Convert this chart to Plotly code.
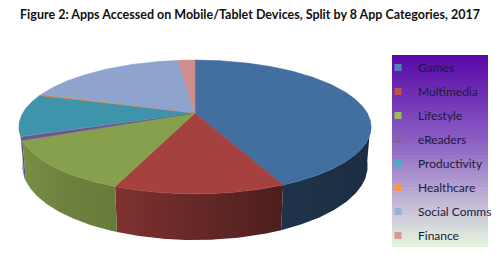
import numpy as np
import plotly.graph_objects as go

# ---------------- data ----------------
categories = ["Games", "Multimedia", "Lifestyle", "eReaders", "Productivity",
              "Healthcare", "Social Comms", "Finance"]
shares = [43.2, 12.9, 12.5, 0.8, 10.3, 0.3, 18.1, 1.9]
top_colors = ["#426EA0", "#A5423F", "#87A04D", "#6E5491", "#3E94AA",
              "#E0822F", "#8FA4CD", "#CD8E8D"]
legend_colors = ["#4F81BD", "#C0504D", "#9BBB59", "#8064A2", "#4BACC6",
                 "#F79646", "#95B3D7", "#D99694"]
title_text = "Figure 2: Apps Accessed on Mobile/Tablet Devices, Split by 8 App Categories, 2017"

W, H = 503, 266

# ---------------- 3D perspective pie geometry ----------------
alpha = np.radians(21.2)
dist = 4.46
depth = 0.236
ca, sa = np.cos(alpha), np.sin(alpha)
KX, KY = 768.0, 789.0
CX, CY = 195.0, 113.0


def project(theta_deg, z):
    t = np.radians(np.asarray(theta_deg, dtype=float))
    px, py, pz = np.sin(t), np.cos(t), z
    vx = px
    vy = py + dist * ca
    vz = pz - dist * sa
    xc = vx
    yc = vy * sa + vz * ca
    zc = vy * ca - vz * sa
    return CX + KX * xc / zc, CY - KY * yc / zc


def apex(z):
    vy = dist * ca
    vz = z - dist * sa
    yc = vy * sa + vz * ca
    zc = vy * ca - vz * sa
    return CX, CY - KY * yc / zc


def shade(hexcol, f):
    h = hexcol.lstrip("#")
    r, g, b = (int(h[i:i + 2], 16) for i in (0, 2, 4))
    return "rgb(%d,%d,%d)" % (min(255, r * f), min(255, g * f), min(255, b * f))


def side_factor(theta):
    return np.interp(theta, [100, 155, 202, 256], [0.40, 0.46, 0.77, 0.93])


total = float(sum(shares))
bounds = np.concatenate([[0.0], np.cumsum(shares) / total * 360.0])

fig = go.Figure()

# side walls (only front-facing part)
VIS0, VIS1 = 98.0, 262.0
for i, col in enumerate(top_colors):
    a0, a1 = max(bounds[i], VIS0), min(bounds[i + 1], VIS1)
    if a1 <= a0:
        continue
    th = np.linspace(a0, a1, max(4, int((a1 - a0) * 2)))
    xt, yt = project(th, 0.0)
    xb, yb = project(th[::-1], -depth)
    xs = np.concatenate([xt, xb, xt[:1]])
    ys = np.concatenate([yt, yb, yt[:1]])
    ths = np.linspace(a0, a1, 6)
    xg, _ = project(ths, 0.0)
    order = np.argsort(xg)
    xmin, xmax = xg.min(), xg.max()
    span = max(xmax - xmin, 1e-6)
    cs = [[float((xg[j] - xmin) / span), shade(col, side_factor(ths[j]))] for j in order]
    cs[0][0] = 0.0
    cs[-1][0] = 1.0
    fig.add_trace(go.Scatter(
        x=xs, y=ys, mode="lines", fill="toself", line=dict(width=0),
        fillcolor=shade(col, side_factor((a0 + a1) / 2)),
        fillgradient=dict(type="horizontal", colorscale=cs, start=xmin, stop=xmax),
        hoverinfo="skip", showlegend=False))

# top face slices
ax, ay = apex(0.0)
for i, col in enumerate(top_colors):
    a0, a1 = bounds[i], bounds[i + 1]
    th = np.linspace(a0, a1, max(3, int((a1 - a0) * 2)))
    xr, yr = project(th, 0.0)
    xs = np.concatenate([[ax], xr, [ax]])
    ys = np.concatenate([[ay], yr, [ay]])
    fig.add_trace(go.Scatter(
        x=xs, y=ys, mode="lines", fill="toself",
        line=dict(width=0.6, color=col), fillcolor=col,
        hoverinfo="text", text=f"{categories[i]}: {shares[i]}%",
        showlegend=False))

# legend entries
for i, name in enumerate(categories):
    fig.add_trace(go.Scatter(
        x=[None], y=[None], mode="markers", name=name, legendgroup=name,
        marker=dict(symbol="square", size=7, color=legend_colors[i]),
        showlegend=True))

# legend background gradient box (stacked strips)
bx0, bx1, by0, by1 = 392, 488, 55, 247
stops_pos = [0.0, 0.45, 0.8, 1.0]
stops_rgb = np.array([[88, 8, 168], [140, 96, 196], [200, 194, 216], [230, 246, 222]])
n = 48
shapes = []
for k in range(n):
    t = (k + 0.5) / n
    rgb = [np.interp(t, stops_pos, stops_rgb[:, c]) for c in range(3)]
    y0 = by0 + (by1 - by0) * k / n
    y1 = by0 + (by1 - by0) * (k + 1) / n + 0.6
    shapes.append(dict(type="rect", xref="paper", yref="paper",
                       x0=bx0 / W, x1=bx1 / W, y0=1 - y0 / H, y1=1 - min(y1, by1) / H,
                       line=dict(width=0), fillcolor="rgb(%d,%d,%d)" % tuple(int(v) for v in rgb),
                       layer="below"))

fig.update_layout(
    width=W, height=H,
    margin=dict(l=0, r=0, t=0, b=0),
    paper_bgcolor="white", plot_bgcolor="white",
    xaxis=dict(range=[0, W], visible=False, fixedrange=True),
    yaxis=dict(range=[H, 0], visible=False, fixedrange=True),
    shapes=shapes,
    title=dict(text="<b>" + title_text + "</b>", x=250 / W, xanchor="center",
               y=1 - 15 / H, yanchor="middle",
               font=dict(family="Lato", size=12.5, color="#111111")),
    legend=dict(x=378 / W, xanchor="left", y=1 - 53 / H, yanchor="top",
                bgcolor="rgba(0,0,0,0)", borderwidth=0,
                font=dict(family="Lato", size=12, color="#1c1a3a"),
                tracegroupgap=5, itemwidth=30),
    showlegend=True,
)

fig.write_html("out.html")
